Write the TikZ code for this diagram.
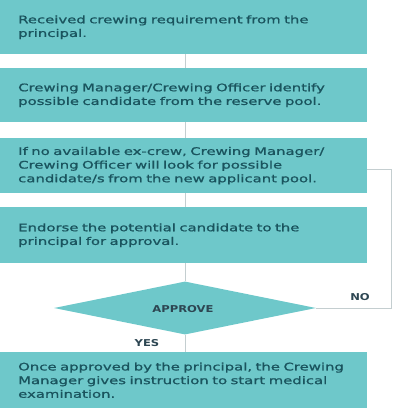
\documentclass[tikz,border=0pt]{standalone}
\usepackage{fontspec}
\setmainfont[FakeStretch=1.42,FakeBold=1.1]{DejaVu Sans}
\newfontfamily\lblfont[FakeStretch=1.22]{DejaVu Sans Bold}
\usetikzlibrary{shapes.geometric}
\definecolor{boxfill}{RGB}{110,200,202}
\definecolor{boxtext}{RGB}{26,84,94}
\definecolor{lbltext}{RGB}{45,70,82}
\definecolor{linecol}{RGB}{196,206,208}
\tikzset{
  stepbox/.style={rectangle, fill=boxfill, anchor=north west, minimum width=367bp,
    text width=331bp, inner xsep=18bp, inner ysep=0pt, align=left,
    font=\fontsize{10.5}{13.7}\selectfont, text=boxtext},
  decision/.style={diamond, fill=boxfill, minimum width=262bp, minimum height=53bp,
    inner sep=0pt},
  lbl/.style={font=\lblfont\fontsize{9.5}{11}\selectfont, text=lbltext, inner sep=0pt},
  conn/.style={draw=linecol, line width=0.9bp}
}
\begin{document}
\begin{tikzpicture}[x=1bp,y=-1bp]
\useasboundingbox (0,0) rectangle (408,408);
\node[stepbox, minimum height=54bp] (b1) at (0,0) {Received crewing requirement from the\\principal.};
\node[stepbox, minimum height=54bp] (b2) at (0,68) {Crewing Manager/Crewing Officer identify\\possible candidate from the reserve pool.};
\node[stepbox, minimum height=55bp] (b3) at (0,138) {If no available ex-crew, Crewing Manager/\\Crewing Officer will look for possible\\candidate/s from the new applicant pool.};
\node[stepbox, minimum height=56bp] (b4) at (0,207) {Endorse the potential candidate to the\\principal for approval.};
\node[decision] (d) at (185,308) {};
\node[lbl] (ap) at (183,309) {APPROVE};
\node[stepbox, minimum height=56bp] (b5) at (0,352) {Once approved by the principal, the Crewing\\Manager gives instruction to start medical\\examination.};
\coordinate (nc) at (391,308);
\draw[conn] (b1.south -| d.north) -- (b2.north -| d.north);
\draw[conn] (b2.south -| d.north) -- (b3.north -| d.north);
\draw[conn] (b3.south -| d.north) -- (b4.north -| d.north);
\draw[conn] (b4.south -| d.north) -- (d.north);
\draw[conn] (d.south) -- (b5.north -| d.south);
\draw[conn] (d.east) -- (nc) |- ([yshift=-3.5bp]b3.east);
\node[lbl] (no) at (360,297) {NO};
\node[lbl] (yes) at (147,343) {YES};
\end{tikzpicture}
\end{document}
